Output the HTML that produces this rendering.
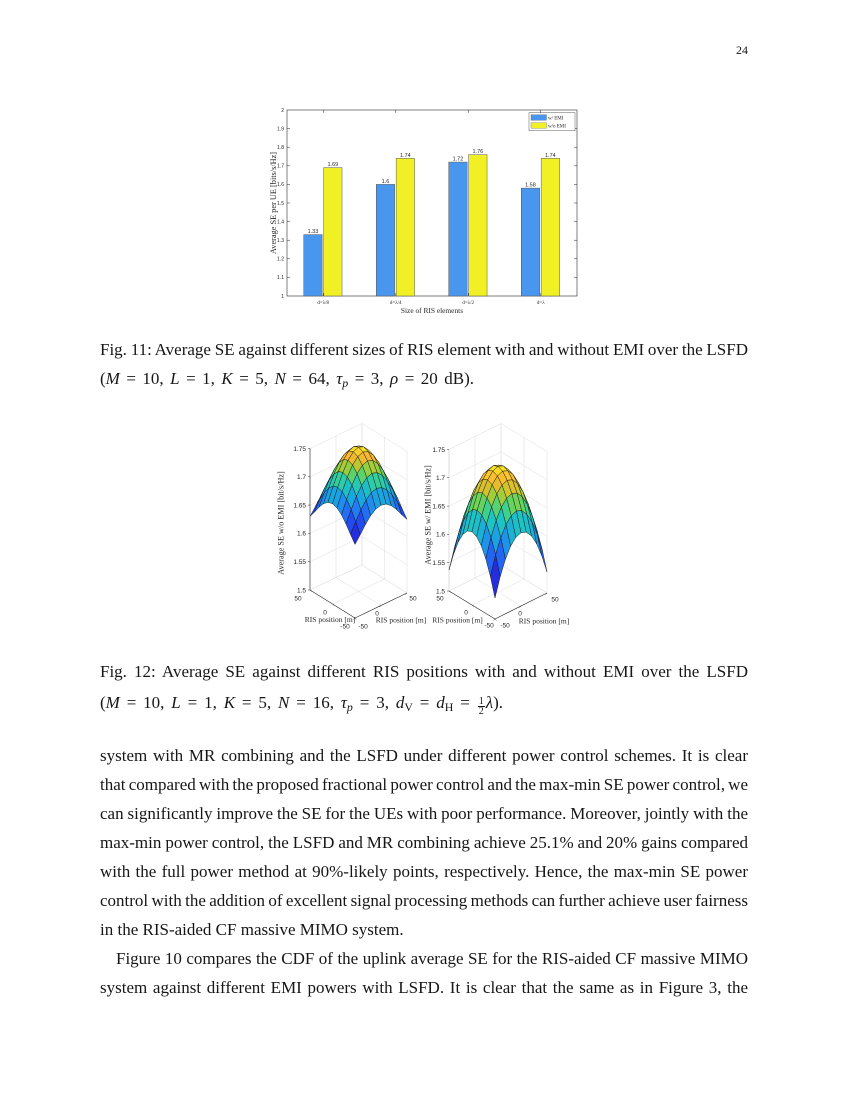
<!DOCTYPE html>
<html><head><meta charset="utf-8">
<style>
html,body{margin:0;padding:0;background:#fff;}
body{width:850px;height:1100px;position:relative;overflow:hidden;font-family:"Liberation Serif","DejaVu Serif",serif;color:#161616;}
.ln{position:absolute;left:100px;white-space:nowrap;font-size:17px;line-height:20px;}
sub{font-size:70%;vertical-align:-3px;line-height:0;}
.fr{display:inline-block;vertical-align:-6px;font-size:10px;line-height:9px;text-align:center;margin:0 1px;}
.fr span{display:block;padding:0 1px;}
.fr span:first-child{border-bottom:0.8px solid #161616;}
svg{position:absolute;left:0;top:0;}
</style></head><body>
<div style="position:absolute;left:718px;top:42px;width:30px;text-align:right;font-size:12px;line-height:16px;">24</div>

<svg id="fig" width="850" height="1100" viewBox="0 0 850 1100">
<g id="bar" font-family="Liberation Sans, Arial, sans-serif" fill="#262626">
<rect x="287" y="110" width="290" height="186" fill="#fff" stroke="#2b2b2b" stroke-width="0.6"/>
<g stroke="#2b2b2b" stroke-width="0.5">
<line x1="287" y1="277.4" x2="290" y2="277.4"/><line x1="577" y1="277.4" x2="574" y2="277.4"/>
<line x1="287" y1="258.8" x2="290" y2="258.8"/><line x1="577" y1="258.8" x2="574" y2="258.8"/>
<line x1="287" y1="240.2" x2="290" y2="240.2"/><line x1="577" y1="240.2" x2="574" y2="240.2"/>
<line x1="287" y1="221.6" x2="290" y2="221.6"/><line x1="577" y1="221.6" x2="574" y2="221.6"/>
<line x1="287" y1="203" x2="290" y2="203"/><line x1="577" y1="203" x2="574" y2="203"/>
<line x1="287" y1="184.4" x2="290" y2="184.4"/><line x1="577" y1="184.4" x2="574" y2="184.4"/>
<line x1="287" y1="165.8" x2="290" y2="165.8"/><line x1="577" y1="165.8" x2="574" y2="165.8"/>
<line x1="287" y1="147.2" x2="290" y2="147.2"/><line x1="577" y1="147.2" x2="574" y2="147.2"/>
<line x1="287" y1="128.6" x2="290" y2="128.6"/><line x1="577" y1="128.6" x2="574" y2="128.6"/>
<line x1="323.25" y1="296" x2="323.25" y2="293"/><line x1="323.25" y1="110" x2="323.25" y2="113"/>
<line x1="395.75" y1="296" x2="395.75" y2="293"/><line x1="395.75" y1="110" x2="395.75" y2="113"/>
<line x1="468.25" y1="296" x2="468.25" y2="293"/><line x1="468.25" y1="110" x2="468.25" y2="113"/>
<line x1="540.75" y1="296" x2="540.75" y2="293"/><line x1="540.75" y1="110" x2="540.75" y2="113"/>
</g>
<g font-size="5" text-anchor="end">
<text x="284" y="297.8">1</text><text x="284" y="279.2">1.1</text><text x="284" y="260.6">1.2</text>
<text x="284" y="242">1.3</text><text x="284" y="223.4">1.4</text><text x="284" y="204.8">1.5</text>
<text x="284" y="186.2">1.6</text><text x="284" y="167.6">1.7</text><text x="284" y="149">1.8</text>
<text x="284" y="130.4">1.9</text><text x="284" y="111.8">2</text>
</g>
<g font-size="5" text-anchor="middle" font-family="Liberation Serif, serif">
<text x="323.25" y="304">d=λ/8</text><text x="395.75" y="304">d=λ/4</text>
<text x="468.25" y="304">d=λ/2</text><text x="540.75" y="304">d=λ</text>
</g>
<g stroke="#555" stroke-width="0.5">
<rect x="303.75" y="234.62" width="18.4" height="61.38" fill="#4896ee"/>
<rect x="323.65" y="167.66" width="18.4" height="128.34" fill="#f0f024"/>
<rect x="376.25" y="184.4" width="18.4" height="111.6" fill="#4896ee"/>
<rect x="396.15" y="158.36" width="18.4" height="137.64" fill="#f0f024"/>
<rect x="448.75" y="162.08" width="18.4" height="133.92" fill="#4896ee"/>
<rect x="468.65" y="154.64" width="18.4" height="141.36" fill="#f0f024"/>
<rect x="521.25" y="188.12" width="18.4" height="107.88" fill="#4896ee"/>
<rect x="541.15" y="158.36" width="18.4" height="137.64" fill="#f0f024"/>
</g>
<g font-size="5.5" text-anchor="middle">
<text x="312.95" y="233">1.33</text><text x="332.85" y="166">1.69</text>
<text x="385.45" y="182.8">1.6</text><text x="405.35" y="156.8">1.74</text>
<text x="457.95" y="160.5">1.72</text><text x="477.85" y="153">1.76</text>
<text x="530.45" y="186.5">1.58</text><text x="550.35" y="156.8">1.74</text>
</g>
<rect x="529" y="112.7" width="46" height="18" fill="#fff" stroke="#333" stroke-width="0.4"/>
<rect x="531" y="114.7" width="15.5" height="5.6" fill="#4896ee" stroke="#555" stroke-width="0.3"/>
<rect x="531" y="122.7" width="15.5" height="5.6" fill="#f0f024" stroke="#555" stroke-width="0.3"/>
<g font-size="5" font-family="Liberation Serif, serif">
<text x="548" y="119.5">w/ EMI</text><text x="548" y="127.5">w/o EMI</text>
</g>
<text font-family="Liberation Serif, serif" font-size="8.3" text-anchor="middle" transform="translate(276,203) rotate(-90)">Average SE per UE [bits/s/Hz]</text>
<text font-family="Liberation Serif, serif" font-size="7.4" text-anchor="middle" x="432" y="313">Size of RIS elements</text>
</g>

<g id="p3d"></g>

<g font-family="Liberation Sans, Arial, sans-serif" font-size="6.5" fill="#262626">
<g text-anchor="end">
<text x="306" y="450.8">1.75</text><text x="306" y="479.1">1.7</text><text x="306" y="507.4">1.65</text>
<text x="306" y="535.7">1.6</text><text x="306" y="564">1.55</text><text x="306" y="592.3">1.5</text>
<text x="445" y="451.8">1.75</text><text x="445" y="480.1">1.7</text><text x="445" y="508.4">1.65</text>
<text x="445" y="536.7">1.6</text><text x="445" y="565">1.55</text><text x="445" y="593.3">1.5</text>
</g>
<g text-anchor="middle">
<text x="298" y="600.5">50</text><text x="325" y="614.3">0</text><text x="345" y="628.3">-50</text>
<text x="363" y="628.3">-50</text><text x="377" y="615.3">0</text><text x="413" y="600.5">50</text>
<text x="440" y="600.5">50</text><text x="466" y="614.3">0</text><text x="489" y="627.3">-50</text>
<text x="505" y="627.3">-50</text><text x="520" y="615.3">0</text><text x="555" y="601.5">50</text>
</g>
</g>
<g font-family="Liberation Serif, serif" font-size="7.5" fill="#262626" text-anchor="middle">
<text x="330" y="622">RIS position [m]</text>
<text x="401" y="622.5">RIS position [m]</text>
<text x="457.5" y="622.5">RIS position [m]</text>
<text x="544" y="623.5">RIS position [m]</text>
<text font-size="8.2" transform="translate(283.5,523) rotate(-90)">Average SE w/o EMI [bit/s/Hz]</text>
<text font-size="8.2" transform="translate(430.5,515) rotate(-90)">Average SE w/ EMI [bit/s/Hz]</text>
</g>
</svg>

<div class="ln j" style="top:340px"><span>Fig. 11: Average SE against different sizes of RIS element with and without EMI over the LSFD</span></div>
<div class="ln j" data-w="374" style="top:369px"><span>(<i>M</i> = 10, <i>L</i> = 1, <i>K</i> = 5, <i>N</i> = 64, <i>τ<sub>p</sub></i> = 3, <i>ρ</i> = 20 dB).</span></div>

<div class="ln j" style="top:662px"><span>Fig. 12: Average SE against different RIS positions with and without EMI over the LSFD</span></div>
<div class="ln j" data-w="403" style="top:693px"><span>(<i>M</i> = 10, <i>L</i> = 1, <i>K</i> = 5, <i>N</i> = 16, <i>τ<sub>p</sub></i> = 3, <i>d</i><sub>V</sub> = <i>d</i><sub>H</sub> = <span class="fr"><span>1</span><span>2</span></span><i>λ</i>).</span></div>

<div class="ln j" style="top:746px"><span>system with MR combining and the LSFD under different power control schemes. It is clear</span></div>
<div class="ln j" style="top:775px"><span>that compared with the proposed fractional power control and the max-min SE power control, we</span></div>
<div class="ln j" style="top:804px"><span>can significantly improve the SE for the UEs with poor performance. Moreover, jointly with the</span></div>
<div class="ln j" style="top:833px"><span>max-min power control, the LSFD and MR combining achieve 25.1% and 20% gains compared</span></div>
<div class="ln j" style="top:862px"><span>with the full power method at 90%-likely points, respectively. Hence, the max-min SE power</span></div>
<div class="ln j" style="top:891px"><span>control with the addition of excellent signal processing methods can further achieve user fairness</span></div>
<div class="ln" style="top:920px"><span>in the RIS-aided CF massive MIMO system.</span></div>
<div class="ln j" data-w="632" style="top:949px;left:116px"><span>Figure 10 compares the CDF of the uplink average SE for the RIS-aided CF massive MIMO</span></div>
<div class="ln j" style="top:978px"><span>system against different EMI powers with LSFD. It is clear that the same as in Figure 3, the</span></div>

<script>
(function(){
  document.querySelectorAll('.j').forEach(function(d){
    var s=d.firstElementChild;
    var target=parseFloat(d.getAttribute('data-w')||648);
    s.style.wordSpacing='0px';
    var w=s.getBoundingClientRect().width;
    var n=(s.textContent.match(/ /g)||[]).length;
    if(n) s.style.wordSpacing=((target-w)/n)+'px';
  });

  var NS='http://www.w3.org/2000/svg';
  var root=document.getElementById('p3d');
  function el(tag,attrs,parent){var e=document.createElementNS(NS,tag);for(var k in attrs)e.setAttribute(k,attrs[k]);(parent||root).appendChild(e);return e;}
  var stops=[[0,[38,45,220]],[0.12,[35,80,242]],[0.25,[35,125,245]],[0.37,[25,165,225]],[0.5,[30,195,195]],[0.6,[60,210,140]],[0.7,[130,210,70]],[0.8,[210,195,45]],[0.88,[250,180,50]],[1,[248,235,30]]];
  function cmap(t){
    t=Math.max(0,Math.min(1,t));
    for(var i=0;i<stops.length-1;i++){
      var a=stops[i],b=stops[i+1];
      if(t<=b[0]){var f=(t-a[0])/(b[0]-a[0]);
        return 'rgb('+Math.round(a[1][0]+f*(b[1][0]-a[1][0]))+','+Math.round(a[1][1]+f*(b[1][1]-a[1][1]))+','+Math.round(a[1][2]+f*(b[1][2]-a[1][2]))+')';}
    }
    return 'rgb(248,235,30)';
  }
  function plot(cfg){
    var g=el('g',{});
    function P(a,b,z){return [cfg.C[0]+a*cfg.u[0]+b*cfg.v[0], cfg.C[1]+a*cfg.u[1]+b*cfg.v[1]-(z-1.5)*566];}
    function line(p,q,st,w){el('line',{x1:p[0].toFixed(2),y1:p[1].toFixed(2),x2:q[0].toFixed(2),y2:q[1].toFixed(2),stroke:st,'stroke-width':w},g);}
    var gc='#dcdcdc';
    for(var z=1.5;z<=1.7501;z+=0.05){line(P(50,-50,z),P(50,50,z),gc,0.5);line(P(50,50,z),P(-50,50,z),gc,0.5);}
    [-50,0,50].forEach(function(a){
      line(P(50,a,1.5),P(50,a,1.75),gc,0.5);
      line(P(a,50,1.5),P(a,50,1.75),gc,0.5);
      line(P(a,-50,1.5),P(a,50,1.5),gc,0.5);
      line(P(-50,a,1.5),P(50,a,1.5),gc,0.5);
    });
    var ax='#2a2a2a';
    line(P(50,-50,1.5),P(-50,-50,1.5),ax,0.6);
    line(P(-50,-50,1.5),P(-50,50,1.5),ax,0.6);
    line(P(50,-50,1.5),P(50,-50,1.75),cfg.zax,0.6);
    for(var z2=1.5;z2<=1.7501;z2+=0.05){var p=P(50,-50,z2);line([p[0]-2,p[1]],p,ax,0.5);}
    [-50,0,50].forEach(function(a){
      var p=P(a,-50,1.5);line(p,[p[0]+1.5,p[1]+1.5],ax,0.5);
      var q=P(-50,a,1.5);line(q,[q[0]-1.5,q[1]+1.5],ax,0.5);
    });
    var xs=[];for(var i=0;i<=10;i++)xs.push(-50+10*i);
    var Z=[],zmin=1e9,zmax=-1e9;
    for(i=0;i<=10;i++){Z.push([]);for(var j=0;j<=10;j++){var v=cfg.f(xs[i],xs[j]);Z[i].push(v);zmin=Math.min(zmin,v);zmax=Math.max(zmax,v);}}
    var faces=[];
    for(i=0;i<10;i++)for(j=0;j<10;j++){
      var pts=[P(xs[i],xs[j],Z[i][j]),P(xs[i+1],xs[j],Z[i+1][j]),P(xs[i+1],xs[j+1],Z[i+1][j+1]),P(xs[i],xs[j+1],Z[i][j+1])];
      faces.push({d:i+j,pts:pts,c:cmap((Z[i][j]-zmin)/(zmax-zmin))});
    }
    faces.sort(function(a,b){return b.d-a.d;});
    faces.forEach(function(fc){
      el('polygon',{points:fc.pts.map(function(p){return p[0].toFixed(2)+','+p[1].toFixed(2);}).join(' '),fill:fc.c,stroke:'#151515','stroke-width':0.45,'stroke-linejoin':'round'},g);
    });
  }
  var R=70.7107;
  plot({C:[358.5,591.5],u:[-0.45,-0.28],v:[0.52,-0.25],zax:'#2a2a2a',
    f:function(a,b){var t=Math.min(1,Math.sqrt(a*a+b*b)/R);var h=Math.pow(Math.max(0,Math.cos(Math.PI*t/2)),1.2);return 1.63+0.125*h;}});
  plot({C:[498,592],u:[-0.46,-0.28],v:[0.52,-0.26],zax:'#cfcfcf',
    f:function(a,b){var t=Math.sqrt(a*a+b*b)/R;return 1.537+0.185*(1-t*t);}});
})();
</script>
</body></html>
